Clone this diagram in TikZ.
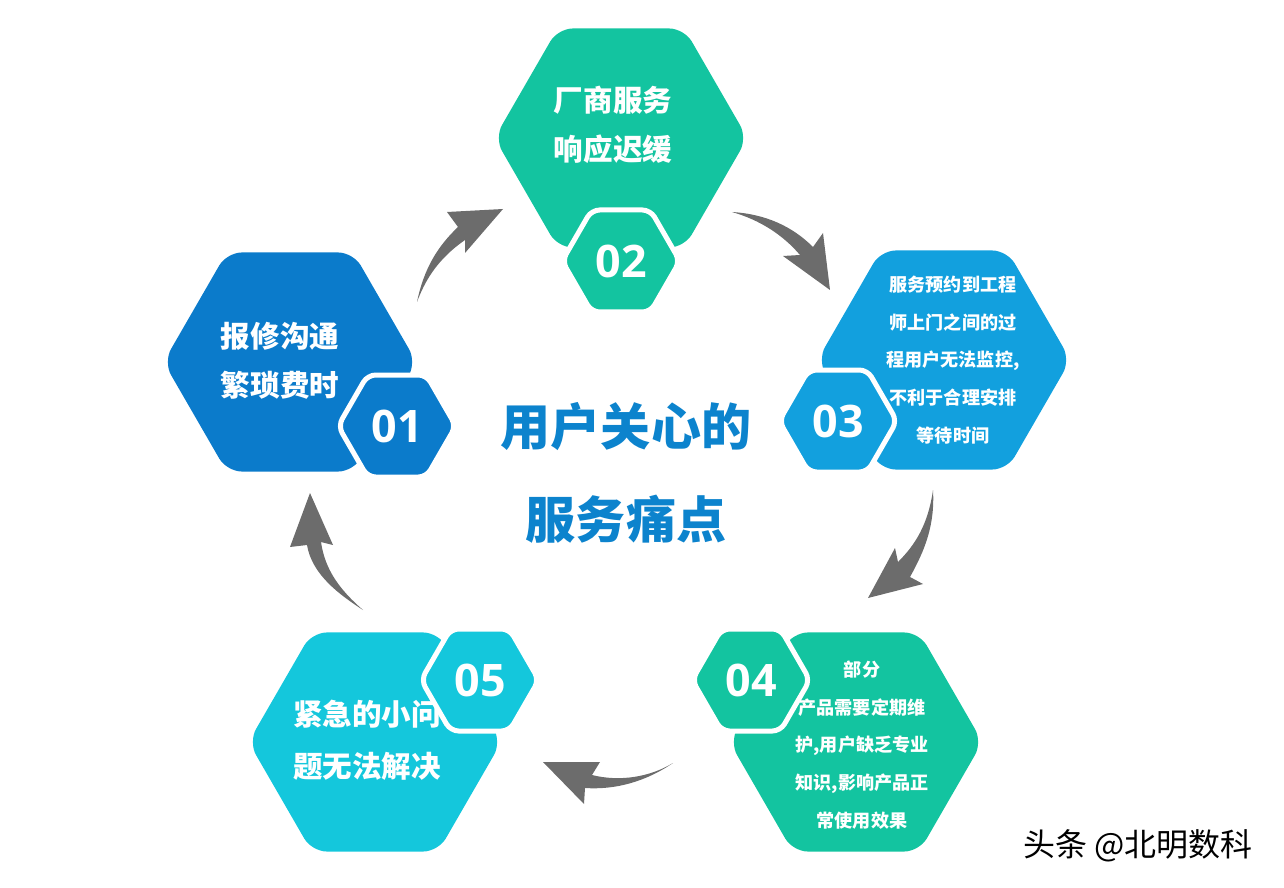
\documentclass[tikz,border=0pt]{standalone}
\usepackage{fontspec}
\setmainfont{Noto Sans CJK SC}
\newfontfamily\numfont{Open Sans}
\usetikzlibrary{shapes.geometric}
\definecolor{blueA}{HTML}{0B7BCB}
\definecolor{greenA}{HTML}{13C4A0}
\definecolor{blueB}{HTML}{12A0DE}
\definecolor{cyanA}{HTML}{14C7DC}
\definecolor{greyA}{HTML}{6C6C6C}
\tikzstyle{hexbig}=[regular polygon, regular polygon sides=6,
                minimum size=5.06cm, inner sep=0, outer sep=0, rounded corners=0.3cm]
\tikzstyle{badge}=[regular polygon, regular polygon sides=6,
                minimum size=2.356cm, inner sep=0, outer sep=0, rounded corners=0.16cm,
                draw=white, line width=0.1cm, text=white,
                font=\numfont\bfseries\fontsize{25.5}{28}\selectfont]
\tikzstyle{bigtxt}=[text=white, align=center, inner sep=0,
                font=\bfseries\fontsize{16.8}{28}\selectfont]
\tikzstyle{smalltxt}=[text=white, align=center, inner sep=0,
                font=\bfseries\fontsize{10.3}{21.5}\selectfont]
\tikzstyle{title}=[text=blueA!90!cyanA, align=center, inner sep=0,
                font=\bfseries\fontsize{28.5}{53}\selectfont]
\tikzstyle{swoosh}=[fill=greyA]

\begin{document}
\begin{tikzpicture}[x=0.02cm,y=-0.02cm]
\useasboundingbox (0,0) rectangle (1284,888);

\node[hexbig, fill=blueA] (hex1) at (290,362) {};
\node[bigtxt] (txt1) at (280,361) {报修沟通\\繁琐费时};
\node[badge, fill=blueA] (num1) at (397,426) {01};

\node[hexbig, fill=greenA] (hex2) at (621,138) {};
\node[bigtxt] (txt2) at (613,125) {厂商服务\\响应迟缓};
\node[badge, fill=greenA] (num2) at (621,261) {02};

\node[hexbig, fill=blueB] (hex3) at (944,360) {};
\node[smalltxt] (txt3) at (953,360) {服务预约到工程\\师上门之间的过\\程用户无法监控,\\不利于合理安排\\等待时间};
\node[badge, fill=blueB] (num3) at (838,421) {03};

\node[hexbig, fill=greenA] (hex4) at (856,742) {};
\node[smalltxt] (txt4) at (862,745) {部分\\产品需要定期维\\护,用户缺乏专业\\知识,影响产品正\\常使用效果};
\node[badge, fill=greenA] (num4) at (751,680) {04};

\node[hexbig, fill=cyanA] (hex5) at (375,742) {};
\node[bigtxt, font=\bfseries\fontsize{16.8}{29.5}\selectfont] (txt5) at (367,740) {紧急的小问\\题无法解决};
\node[badge, fill=cyanA] (num5) at (480,680) {05};

\node[title] (title) at (626,473) {用户关心的\\服务痛点};
\node[inner sep=0, font=\fontsize{18.2}{22}\selectfont] (mark) at (1138,846) {头条 @北明数科};

\coordinate (tail12) at (417,302);
\coordinate (tip12) at (503,209);
\coordinate (tail23) at (732,212);
\coordinate (tip23) at (830,290);
\coordinate (tail34) at (933,490);
\coordinate (tip34) at (868,598);
\coordinate (tail45) at (673,763);
\coordinate (tip45) at (543,762);
\coordinate (tail51) at (363,610);
\coordinate (tip51) at (310,493);

\fill[swoosh] (tail12) .. controls (424,268) and (438,246) .. (458,227) -- (447,212) -- (tip12)
  -- (465,253) -- (465,240) .. controls (445,254) and (428,272) .. (tail12) -- cycle;
\fill[swoosh] (tail23) .. controls (765,214) and (792,226) .. (813,247) -- (823,233) -- (tip23)
  -- (783,256) -- (800,255) .. controls (783,235) and (760,220) .. (tail23) -- cycle;
\fill[swoosh] (tail34) .. controls (935,525) and (925,550) .. (910,577) -- (923,584) -- (tip34)
  -- (895,548) -- (898,562) .. controls (915,545) and (928,525) .. (tail34) -- cycle;
\fill[swoosh] (tail45) .. controls (645,782) and (615,790) .. (585,788) -- (584,804) -- (tip45)
  -- (600,762) -- (592,775) .. controls (620,782) and (650,777) .. (tail45) -- cycle;
\fill[swoosh] (tail51) .. controls (340,595) and (312,575) .. (307,545) -- (290,547) -- (tip51)
  -- (333,545) -- (321,542) .. controls (325,570) and (340,590) .. (tail51) -- cycle;
\end{tikzpicture}
\end{document}
